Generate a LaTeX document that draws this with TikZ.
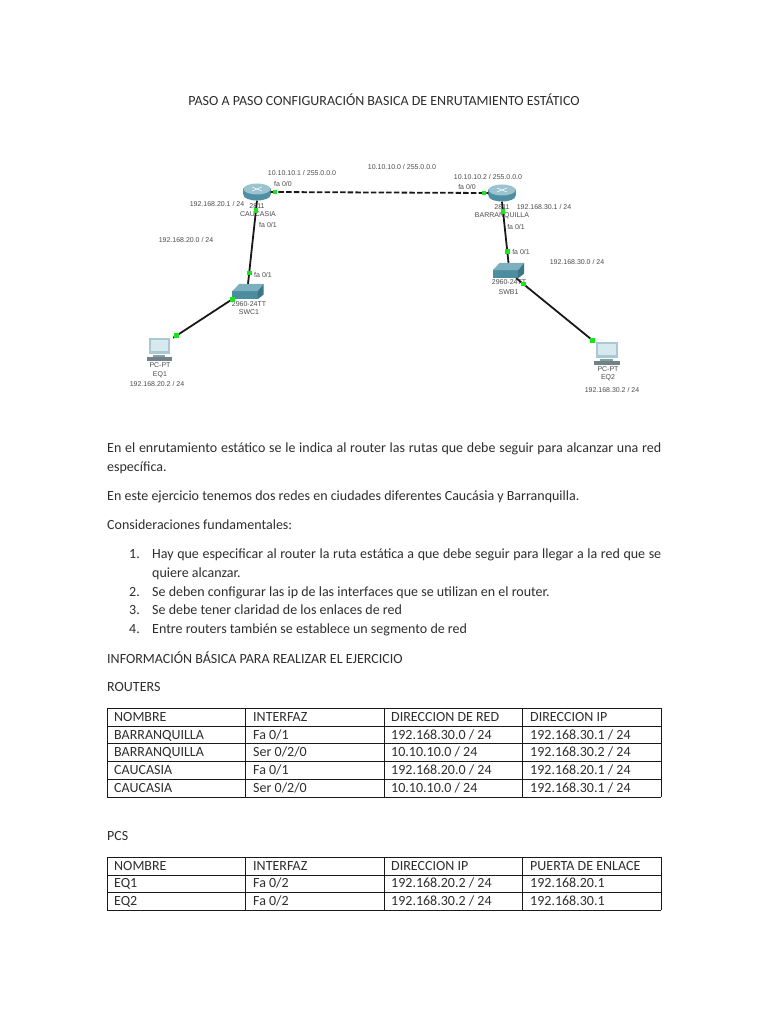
\documentclass[tikz,border=0pt]{standalone}
\usepackage{fontspec}
\setmainfont{Carlito}
\newfontfamily\netfont{Liberation Sans}
\usepackage{xcolor}
\usetikzlibrary{arrows.meta,positioning,shapes.geometric}
\definecolor{routertop}{HTML}{9CC4D0}
\definecolor{routerbody}{HTML}{4F8FA3}
\definecolor{routerlight}{HTML}{8FBCC9}
\definecolor{switchfront}{HTML}{4D8DA0}
\definecolor{switchtop}{HTML}{7DB0BE}
\definecolor{switchside}{HTML}{3B7789}
\definecolor{pcbody}{HTML}{A9C8D1}
\definecolor{pcscreen}{HTML}{D6E9EE}
\definecolor{portgreen}{HTML}{19E619}
\tikzstyle{body} = [inner sep=0pt, anchor=north west, text=black!82, font=\fontsize{14}{18.8}\selectfont]
\tikzstyle{numlabel} = [body, anchor=base west]
\tikzstyle{cell} = [inner sep=0pt, anchor=west, text=black!82, text height=10pt, text depth=3pt, font=\fontsize{14}{16}\selectfont]
\tikzstyle{netlabel} = [inner sep=0pt, text=black!70, font=\netfont\fontsize{7}{8}\selectfont]
\tikzstyle{routerbox} = [rectangle, inner sep=0pt, minimum width=27pt, minimum height=17pt]
\tikzstyle{switchbox} = [rectangle, inner sep=0pt, minimum width=31pt, minimum height=15pt]
\tikzstyle{pcbox} = [rectangle, inner sep=0pt, minimum width=26pt, minimum height=23pt]
\tikzstyle{port} = [rectangle, fill=portgreen, inner sep=0pt, minimum size=4.8pt]
\tikzstyle{link} = [line width=1.8pt, black!90]
\tikzstyle{grid} = [line width=0.9pt, black!90]

\begin{document}
\begin{tikzpicture}[x=1pt,y=-1pt]
\useasboundingbox[fill=white] (0,0) rectangle (768,1024);
\node[inner sep=0pt, text=black!82, font=\fontsize{14}{16}\selectfont] (title) at (384,100) {PASO A PASO CONFIGURACIÓN BASICA DE ENRUTAMIENTO ESTÁTICO};

% red de la izquierda
\node[routerbox] (caucasia) at (257,192) {};
\node[switchbox] (swc) at (248,291.5) {};
\node[pcbox] (eq1) at (160,349.5) {};
\node[netlabel] (ipc) at (302,173) {10.10.10.1 / 255.0.0.0};
\node[netlabel] (fac) at (283,184) {fa 0/0};
\node[netlabel] (lanc) at (217,204) {192.168.20.1 / 24};
\node[netlabel] (modc) at (257,206) {2811};
\node[netlabel] (namec) at (258,214.5) {CAUCASIA};
\node[netlabel] (fac1) at (268,225) {fa 0/1};
\node[netlabel] (netc) at (186,240) {192.168.20.0 / 24};
\node[netlabel] (fasc) at (263,275) {fa 0/1};
\node[netlabel] (swcname) at (249,312.5) {SWC1};
\node[netlabel] (pc1) at (160,365.5) {PC-PT};
\node[netlabel] (pc1name) at (160,374.5) {EQ1};
\node[netlabel] (ip1) at (157,384) {192.168.20.2 / 24};

% red de la derecha
\node[routerbox] (barranquilla) at (502,193) {};
\node[switchbox] (swb) at (508.5,270.5) {};
\node[pcbox] (eq2) at (607.5,353.5) {};
\node[netlabel] (wan) at (402,167) {10.10.10.0 / 255.0.0.0};
\node[netlabel] (ipb) at (488,177) {10.10.10.2 / 255.0.0.0};
\node[netlabel] (fab) at (467,187) {fa 0/0};
\node[netlabel] (modb) at (502,207) {2811};
\node[netlabel] (lanb) at (544,207) {192.168.30.1 / 24};
\node[netlabel] (nameb) at (502,216) {BARRANQUILLA};
\node[netlabel] (fab1) at (516,227) {fa 0/1};
\node[netlabel] (fasb) at (521,252) {fa 0/1};
\node[netlabel] (netb) at (577,262) {192.168.30.0 / 24};
\node[netlabel] (swbname) at (508.5,292) {SWB1};
\node[netlabel] (pc2) at (608,369) {PC-PT};
\node[netlabel] (pc2name) at (608,378) {EQ2};
\node[netlabel] (ip2) at (612,390) {192.168.30.2 / 24};

% caras de los switches y de los equipos
\foreach \sw in {swc,swb} {
  \fill[switchfront] (\sw.south west) rectangle ([xshift=-6pt,yshift=8pt]\sw.south east);
  \fill[switchtop] ([yshift=8pt]\sw.south west) -- ([xshift=7pt]\sw.north west) -- (\sw.north east) -- ([xshift=-6pt,yshift=8pt]\sw.south east) -- cycle;
  \fill[switchside] ([xshift=-6pt]\sw.south east) -- ([xshift=-6pt,yshift=8pt]\sw.south east) -- (\sw.north east) -- ([yshift=-3pt]\sw.east) -- cycle;
}
\foreach \pc in {eq1,eq2} {
  \fill[pcbody] ([xshift=2pt]\pc.north west) rectangle ([xshift=-3pt,yshift=-4pt]\pc.east);
  \fill[pcscreen] ([xshift=4pt,yshift=-2pt]\pc.north west) rectangle ([xshift=-5pt,yshift=-1.5pt]\pc.east);
  \fill[pcbody!80!black] ([xshift=6pt,yshift=6pt]\pc.south west) rectangle ([xshift=-8pt,yshift=4pt]\pc.south east);
  \fill[pcbody!65!black] ([yshift=4pt]\pc.south west) rectangle ([xshift=-1pt,yshift=0.5pt]\pc.south east);
}
\foreach \rt in {caucasia,barranquilla} {
  \shade[left color=routerbody, middle color=routerlight, right color=routerbody] ([yshift=-3pt]\rt.center) ellipse [x radius=13.5pt, y radius=5.5pt];
  \shade[left color=routerbody, middle color=routerlight, right color=routerbody] ([yshift=-3pt]\rt.west) rectangle ([yshift=3pt]\rt.east);
  \fill[routertop] ([yshift=3pt]\rt.center) ellipse [x radius=13.5pt, y radius=5.5pt];
  \draw[white, line width=0.5pt] ([xshift=-5pt,yshift=5pt]\rt.center) -- ([xshift=5pt,yshift=1pt]\rt.center);
  \draw[white, line width=0.5pt] ([xshift=5pt,yshift=5pt]\rt.center) -- ([xshift=-5pt,yshift=1pt]\rt.center);
}
\node[netlabel] (modsc) at (249,304) {2960-24TT};
\node[netlabel] (modsb) at (509,282.5) {2960-24TT};

% enlaces
\draw[link, dash pattern=on 5.5pt off 2.2pt] (caucasia.east) -- node[port, pos=0.02] (p1) {} node[port, pos=0.98] (p2) {} (barranquilla.west);
\draw[link] (caucasia.south) -- node[port, pos=0.12] (p3) {} node[port, pos=0.87] (p4) {} (swc.north);
\draw[link] (swc.south west) -- node[port, pos=0] (p5) {} node[port, pos=0.95] (p6) {} (eq1.north east);
\draw[link] (barranquilla.south) -- node[port, pos=0.16] (p7) {} node[port, pos=0.82] (p8) {} (swb.north);
\draw[link] (swb.-45) -- node[port, pos=0.09] (p9) {} node[port, pos=0.98] (p10) {} (eq2.north west);

% texto
\node[body, text width=554pt, align=justify] (intro) at (107,442.5) {En el enrutamiento estático se le indica al router las rutas que debe seguir para alcanzar una red específica.};
\node[body] (redes) at (107,490.5) {En este ejercicio tenemos dos redes en ciudades diferentes Caucásia y Barranquilla.};
\node[body] (consid) at (107,519.5) {Consideraciones fundamentales:};
\node[body, text width=509pt, align=justify] (i1) at (152,548.5) {Hay que especificar al router la ruta estática a que debe seguir para llegar a la red que se quiere alcanzar.};
\node[body] (i2) at (152,586.5) {Se deben configurar las ip de las interfaces que se utilizan en el router.};
\node[body] (i3) at (152,605) {Se debe tener claridad de los enlaces de red};
\node[body] (i4) at (152,624) {Entre routers también se establece un segmento de red};
\node[numlabel] (n1) at (129,0 |- i1.base) {1.};
\node[numlabel] (n2) at (129,0 |- i2.base) {2.};
\node[numlabel] (n3) at (129,0 |- i3.base) {3.};
\node[numlabel] (n4) at (129,0 |- i4.base) {4.};
\node[body] (info) at (107,652) {INFORMACIÓN BÁSICA PARA REALIZAR EL EJERCICIO};
\node[body] (routers) at (107,682.5) {ROUTERS};
\node[body] (pcs) at (107,831.5) {PCS};

% tablas
\foreach \rw/\y/\a/\b/\c/\d in {r1/717.5/NOMBRE/INTERFAZ/DIRECCION DE RED/DIRECCION IP,
  r2/735.5/BARRANQUILLA/Fa 0\slash 1/192.168.30.0 \slash\ 24/192.168.30.1 \slash\ 24,
  r3/752.5/BARRANQUILLA/Ser 0\slash 2\slash 0/10.10.10.0 \slash\ 24/192.168.30.2 \slash\ 24,
  r4/771/CAUCASIA/Fa 0\slash 1/192.168.20.0 \slash\ 24/192.168.20.1 \slash\ 24,
  r5/789/CAUCASIA/Ser 0\slash 2\slash 0/10.10.10.0 \slash\ 24/192.168.30.1 \slash\ 24,
  r6/867/NOMBRE/INTERFAZ/DIRECCION IP/PUERTA DE ENLACE,
  r7/884/EQ1/Fa 0\slash 2/192.168.20.2 \slash\ 24/192.168.20.1,
  r8/902/EQ2/Fa 0\slash 2/192.168.30.2 \slash\ 24/192.168.30.1} {
  \node[cell] (\rw a) at (114,\y) {\a};
  \node[cell] (\rw b) at (253,\y) {\b};
  \node[cell] (\rw c) at (391,\y) {\c};
  \node[cell] (\rw d) at (530,\y) {\d};
}
\foreach \y in {708,726,743,761,779,797,857,875,892,910}
  \draw[grid] (107,\y) -- (661,\y);
\foreach \x in {107,245,384,522,661} {
  \draw[grid] (\x,708) -- (\x,797);
  \draw[grid] (\x,857) -- (\x,910);
}
\end{tikzpicture}
\end{document}
